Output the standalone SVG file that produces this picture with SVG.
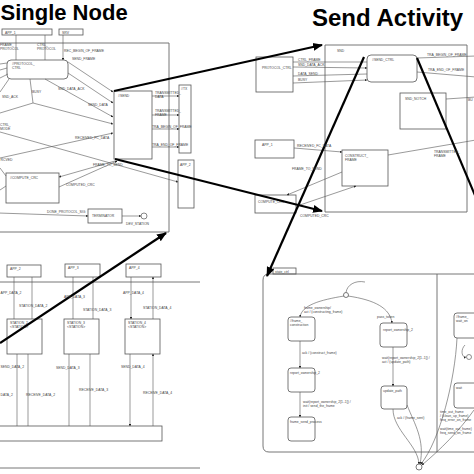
<svg xmlns="http://www.w3.org/2000/svg" width="474" height="474" viewBox="0 0 474 474">
<style>
.t{font-family:"Liberation Sans",Arial,sans-serif;font-size:3.4px;fill:#444}
.h{font-family:"Liberation Sans",Arial,sans-serif;font-weight:bold;fill:#000}
.ln{stroke:#555;stroke-width:0.6;fill:none}
.fr{stroke:#666;stroke-width:0.9;fill:none}
.bx{fill:#fff;stroke:#555;stroke-width:0.8}
.tk{stroke:#000;stroke-width:2.2;fill:none}
</style>
<defs>
<marker id="a" viewBox="0 0 6 6" refX="5.5" refY="3" markerWidth="4" markerHeight="4" orient="auto" markerUnits="strokeWidth"><path d="M0,0L6,3L0,6z" fill="#222"/></marker>
<marker id="A" viewBox="0 0 10 10" refX="9" refY="5" markerWidth="4.5" markerHeight="4.5" orient="auto" markerUnits="strokeWidth"><path d="M0,1L10,5L0,9z" fill="#000"/></marker>
</defs>
<rect width="474" height="474" fill="#fff"/>
<text class="h" x="0.5" y="19.5" font-size="22">Single Node</text>
<text class="h" x="312" y="26" font-size="24">Send Activity</text>

<g id="single-node-frame">
<path class="fr" d="M-2,43H169V232H-2"/>
</g>
<g id="app1-top"><rect class="bx" x="2" y="29" width="50" height="6"/><text class="t" x="5" y="33.5">APP_1</text></g>
<g id="srv-top"><rect class="bx" x="59" y="29" width="24" height="6"/><text class="t" x="62" y="33.5">SRV</text></g>
<g id="protocol-ctrl"><rect class="bx" x="7" y="60" width="61" height="19" rx="4"/><text class="t" x="12" y="65">#PROTOCOL_</text><text class="t" x="12" y="69">CTRL</text></g>
<g id="send"><rect class="bx" x="114" y="91" width="38" height="68"/><text class="t" x="118" y="97">#SEND</text></g>
<g id="tx-box"><rect class="bx" x="179" y="85" width="12" height="68"/><text class="t" x="181" y="90">#TX</text></g>
<g id="app2-side"><rect class="bx" x="178" y="160" width="16" height="48"/><text class="t" x="180" y="166">APP_2</text></g>
<g id="compute-crc"><rect class="bx" x="6" y="173" width="53" height="30"/><text class="t" x="10" y="179">#COMPUTE_CRC</text></g>
<g id="terminator"><rect class="bx" x="88" y="209" width="34" height="14"/><text class="t" x="92" y="217">TERMINATOR</text></g>
<g id="dev-station"><circle cx="144" cy="216" r="3" fill="#fff" stroke="#555" stroke-width="0.7"/><text class="t" x="126" y="225">DEV_STATION</text></g>

<g id="send-frame">
<path class="fr" d="M325,45H467V212H325Z"/><text class="t" x="337" y="52">SND</text>
</g>
<g id="protocol-ctrl-2"><rect class="bx" x="256" y="57" width="37" height="35"/><text class="t" x="262" y="69">PROTOCOL_CTRL</text></g>
<g id="send-ctrl"><rect class="bx" x="367" y="55" width="50" height="27" rx="4"/><text class="t" x="372" y="61">#SEND_CTRL</text></g>
<g id="snd-notch"><rect class="bx" x="400" y="93" width="46" height="36"/><text class="t" x="405" y="100">SND_NOTCH</text></g>
<g id="app1-right"><rect class="bx" x="255" y="140" width="39" height="18"/><text class="t" x="262" y="146">APP_1</text></g>
<g id="construct-frame"><rect class="bx" x="342" y="150" width="46" height="36"/><text class="t" x="345" y="157">CONSTRUCT_</text><text class="t" x="345" y="161">FRAME</text></g>
<g id="compute-crc-2"><rect class="bx" x="255" y="195" width="41" height="18"/><text class="t" x="258" y="203">COMPUTE_CRC</text></g>

<g id="stations-frame"><path class="fr" d="M-2,282H200M-2,468H200"/></g>
<g id="app2"><rect class="bx" x="7" y="265" width="34" height="12"/><text class="t" x="10" y="270">APP_2</text></g>
<g id="app3"><rect class="bx" x="65" y="264" width="35" height="13"/><text class="t" x="68" y="269">APP_3</text></g>
<g id="app4"><rect class="bx" x="126" y="264" width="35" height="13"/><text class="t" x="129" y="269">APP_4</text></g>
<g id="station2"><rect class="bx" x="7" y="319" width="35" height="35"/><text class="t" x="10" y="324">STATION_2</text><text class="t" x="10" y="328">&lt;STATION&gt;</text></g>
<g id="station3"><rect class="bx" x="64" y="319" width="35" height="35"/><text class="t" x="67" y="324">STATION_3</text><text class="t" x="67" y="328">&lt;STATION&gt;</text></g>
<g id="station4"><rect class="bx" x="125" y="319" width="35" height="35"/><text class="t" x="128" y="324">STATION_4</text><text class="t" x="128" y="328">&lt;STATION&gt;</text></g>
<g id="bus"><rect class="bx" x="-2" y="426" width="164" height="15"/></g>

<g id="state-machine">
<rect class="bx" x="273" y="268" width="23" height="6"/><text class="t" x="275" y="272.5">state_ctrl</text>
<path class="fr" d="M476,274H269Q263,274 263,280V446Q263,452 269,452H476M437,274V452"/>
</g>
<g id="st-junction"><circle cx="346" cy="295" r="2.5" fill="#fff" stroke="#444" stroke-width="0.7"/></g>
<g id="st-frame-construct"><rect class="bx" x="288" y="317" width="27" height="24" rx="3"/><text class="t" x="290" y="322">#frame_</text><text class="t" x="290" y="326">construction</text></g>
<g id="st-report-1"><rect class="bx" x="288" y="368" width="27" height="24" rx="3"/><text class="t" x="290" y="374">report_ownership_2</text></g>
<g id="st-frame-send"><rect class="bx" x="288" y="417" width="27" height="24" rx="3"/><text class="t" x="290" y="423">frame_send_process</text></g>
<g id="st-report-2"><rect class="bx" x="380" y="323" width="27" height="24" rx="3"/><text class="t" x="383" y="331">report_ownership_2</text></g>
<g id="st-update"><rect class="bx" x="381" y="386" width="26" height="23" rx="3"/><text class="t" x="383" y="392">update_path</text></g>
<g id="st-wait-frame"><rect class="bx" x="454" y="313" width="24" height="25" rx="3"/><text class="t" x="456" y="318">#frame_</text><text class="t" x="456" y="322">wait_on</text></g>
<g id="st-wait"><rect class="bx" x="454" y="383" width="24" height="25" rx="3"/><text class="t" x="456" y="389">wait</text></g>
<g id="st-end"><circle cx="419" cy="467" r="3" fill="#fff" stroke="#444" stroke-width="0.7"/></g>

<g id="connectors">
<path class="ln" marker-end="url(#a)" d="M16,35V60M45,35V60M63,35V60"/>
<path class="ln" d="M0,64L7,63M0,70L7,68M0,78L8,74M9,79L0,92"/>
<path class="ln" marker-end="url(#a)" d="M68,62L113,92"/>
<path class="ln" marker-end="url(#a)" d="M68,73L113,103"/>
<path class="ln" marker-end="url(#a)" d="M45,79L113,117"/>
<path class="ln" d="M30,79L33,103L0,113"/>
<path class="ln" marker-end="url(#a)" d="M33,103L113,124"/>
<path class="ln" marker-end="url(#a)" d="M0,132L178,182"/>
<path class="ln" marker-end="url(#a)" d="M0,158L113,133"/>
<path class="ln" marker-end="url(#a)" d="M152,96H179"/>
<path class="ln" marker-end="url(#a)" d="M152,115H179"/>
<path class="ln" marker-end="url(#a)" d="M152,129H179"/>
<path class="ln" marker-end="url(#a)" d="M152,147H179"/>
<path class="ln" marker-end="url(#a)" d="M115,161L59,177"/>
<path class="ln" marker-end="url(#a)" d="M59,187L117,161"/>
<path class="ln" d="M0,168L6,176M0,190L6,186"/>
<path class="ln" marker-end="url(#a)" d="M-2,213L88,216"/>
<path class="ln" marker-end="url(#a)" d="M122,216H141"/>

<path class="ln" d="M293,62H367"/>
<path class="ln" marker-end="url(#a)" d="M293,67L367,68"/>
<path class="ln" d="M293,76L367,74"/>
<path class="ln" marker-end="url(#a)" d="M293,83L367,80"/>
<path class="ln" d="M417,58L476,56M417,72L476,77M446,99L476,97"/>
<path class="ln" marker-end="url(#a)" d="M294,148L342,152"/>
<path class="ln" d="M388,155L476,140"/>
<path class="ln" marker-end="url(#a)" d="M342,172L287,195"/>
<path class="ln" marker-end="url(#a)" d="M297,206L356,186"/>

<path class="ln" marker-end="url(#a)" d="M14,277V319M73,277V319M131,277V319"/>
<path class="ln" marker-end="url(#a)" d="M32,319V277M93,319V277M153,319V277"/>
<path class="ln" marker-end="url(#a)" d="M17,354V426M69,354V426M130,354V426"/>
<path class="ln" marker-end="url(#a)" d="M28,426V354M90,426V354M153,426V354"/>

<path class="ln" d="M365,282C355,280 347,285 346,292.5"/>
<path class="ln" marker-end="url(#a)" d="M344,296C320,300 302,305 300,317"/>
<path class="ln" marker-end="url(#a)" d="M348,296C375,300 390,308 392,323"/>
<path class="ln" marker-end="url(#a)" d="M300,341V368"/>
<path class="ln" marker-end="url(#a)" d="M300,392V417"/>
<path class="ln" marker-end="url(#a)" d="M393,347V386"/>
<path class="ln" marker-end="url(#a)" d="M393,409C393,430 418,445 419,464"/>
<path class="ln" marker-end="url(#a)" d="M407,405C415,425 425,440 420,464"/>
<path class="ln" marker-end="url(#a)" d="M457,338C455,380 440,440 421,464"/>
<path class="ln" marker-end="url(#a)" d="M474,410C460,430 440,450 422,465"/>
<path class="ln" marker-end="url(#a)" d="M465,345C460,350 462,358 466,357"/>
<circle cx="469" cy="357" r="2.5" fill="#fff" stroke="#444" stroke-width="0.6"/>

<path class="tk" marker-end="url(#A)" d="M114,91L322,45"/>
<path class="tk" marker-end="url(#A)" d="M115,159L322,211"/>
<path class="tk" marker-end="url(#A)" d="M0,343L166,233"/>
<path class="tk" marker-end="url(#A)" d="M364,57L267,276"/>
<path class="tk" d="M417,58L482,212"/>
</g>

<g id="labels">
<text class="t" x="0" y="46">FRAME_</text><text class="t" x="0" y="50">PROTOCOL</text>
<text class="t" x="37" y="46">CTRL_</text><text class="t" x="37" y="50">PROTOCOL</text>
<text class="t" x="64" y="52">REC_BEGIN_OF_FRAME</text>
<text class="t" x="72" y="60">SEND_FRAME</text>
<text class="t" x="58" y="90">SND_DATA_ACK</text>
<text class="t" x="88" y="106">SEND_DATA</text>
<text class="t" x="32" y="93">BUSY</text>
<text class="t" x="2" y="98">SND_ACK</text>
<text class="t" x="0" y="126">CTRL_</text><text class="t" x="0" y="130">MODE</text>
<text class="t" x="75" y="139">RECEIVED_FC_DATA</text>
<text class="t" x="0.5" y="161">RCVED</text>
<text class="t" x="155" y="94">TRANSMITTED_</text><text class="t" x="155" y="98">DATA</text>
<text class="t" x="155" y="112">TRANSMITTED_</text><text class="t" x="155" y="116">FRAME</text>
<text class="t" x="152" y="128">TRA_BEGIN_OF_FRAME</text>
<text class="t" x="152" y="146">TRA_END_OF_FRAME</text>
<text class="t" x="93" y="166">FRAME_TO_SEND</text>
<text class="t" x="66" y="186">COMPUTED_CRC</text>
<text class="t" x="47" y="213">DONE_PROTOCOL_SIG</text>

<text class="t" x="298" y="61">CTRL_FRAME</text>
<text class="t" x="298" y="66">SND_DATA_ACK</text>
<text class="t" x="298" y="75">DATA_SEND</text>
<text class="t" x="298" y="81">BUSY</text>
<text class="t" x="427" y="56">TRA_BEGIN_OF_FRAME</text>
<text class="t" x="428" y="71">TRA_END_OF_FRAME</text>
<text class="t" x="468" y="101">BU</text>
<text class="t" x="297" y="147">RECEIVED_FC_DATA</text>
<text class="t" x="434" y="153">TRANSMITTED_</text><text class="t" x="434" y="157">FRAME</text>
<text class="t" x="292" y="170">FRAME_TO_SEND</text>
<text class="t" x="300" y="217">COMPUTED_CRC</text>

<text class="t" x="0.5" y="294">APP_DATA_2</text>
<text class="t" x="19" y="307">STATION_DATA_2</text>
<text class="t" x="64" y="298">APP_DATA_3</text>
<text class="t" x="83" y="311">STATION_DATA_3</text>
<text class="t" x="123" y="294">APP_DATA_4</text>
<text class="t" x="143" y="309">STATION_DATA_4</text>
<text class="t" x="0.5" y="368">SEND_DATA_2</text>
<text class="t" x="56" y="369">SEND_DATA_3</text>
<text class="t" x="121" y="368">SEND_DATA_4</text>
<text class="t" x="0.5" y="396">DATA_2</text>
<text class="t" x="26" y="396">RECEIVE_DATA_2</text>
<text class="t" x="79" y="391">RECEIVE_DATA_3</text>
<text class="t" x="143" y="394">RECEIVE_DATA_4</text>

<text class="t" x="304" y="309">frame_ownership/</text><text class="t" x="304" y="313">act / (constructing_frame)</text>
<text class="t" x="377" y="318">pass_token</text>
<text class="t" x="302" y="354">ack / (construct_frame)</text>
<text class="t" x="303" y="403">wait(report_ownership_2[1..1]) /</text><text class="t" x="303" y="407">init / send_the_frame</text>
<text class="t" x="382" y="359">wait(report_ownership_2[1..1]) /</text><text class="t" x="382" y="363">act / (update_path)</text>
<text class="t" x="397" y="419">ack / (frame_sent)</text>
<text class="t" x="440" y="413">time_out_frame</text><text class="t" x="440" y="417">/ (clean_up_frame)</text><text class="t" x="440" y="421">freq_error_on_frame</text>
<text class="t" x="440" y="430">wait(time_out_frame)</text><text class="t" x="440" y="434">freq_send_on_frame</text>
</g>
</svg>
